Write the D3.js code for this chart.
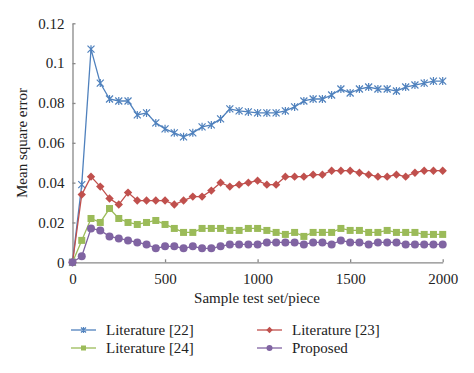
<!DOCTYPE html>
<html>
<head>
<meta charset="utf-8">
<script src="https://cdn.jsdelivr.net/npm/d3@7"></script>
<style>
  body { margin: 0; background: #fff; }
</style>
</head>
<body>
<svg id="chart"></svg>
<script>
let width = 474;
let height = 373;

// sample sizes, every 50 pieces
let samples = d3.range(0, 2001, 50);

let lit22 = [0, 0.039, 0.107, 0.090, 0.082, 0.081, 0.081, 0.074, 0.075, 0.070,
  0.067, 0.065, 0.063, 0.065, 0.068, 0.069, 0.072, 0.077, 0.076, 0.0755,
  0.075, 0.075, 0.075, 0.076, 0.078, 0.081, 0.082, 0.082, 0.084, 0.087,
  0.085, 0.087, 0.088, 0.087, 0.087, 0.086, 0.088, 0.089, 0.090, 0.091, 0.091];

let lit23 = [0, 0.034, 0.043, 0.038, 0.032, 0.029, 0.035, 0.031, 0.031, 0.031,
  0.031, 0.029, 0.031, 0.033, 0.033, 0.036, 0.040, 0.038, 0.039, 0.040,
  0.041, 0.039, 0.039, 0.043, 0.043, 0.043, 0.044, 0.044, 0.046, 0.046,
  0.046, 0.045, 0.044, 0.043, 0.043, 0.044, 0.043, 0.045, 0.046, 0.046, 0.046];

let lit24 = [0, 0.011, 0.022, 0.020, 0.027, 0.022, 0.020, 0.019, 0.020, 0.021,
  0.019, 0.017, 0.015, 0.015, 0.017, 0.017, 0.017, 0.016, 0.016, 0.017,
  0.017, 0.016, 0.015, 0.014, 0.015, 0.013, 0.015, 0.015, 0.015, 0.017,
  0.016, 0.016, 0.015, 0.015, 0.016, 0.015, 0.015, 0.015, 0.014, 0.014, 0.014];

let proposed = [0, 0.003, 0.017, 0.016, 0.013, 0.012, 0.011, 0.010, 0.009, 0.007,
  0.008, 0.008, 0.007, 0.008, 0.007, 0.007, 0.008, 0.009, 0.009, 0.009,
  0.009, 0.010, 0.010, 0.010, 0.010, 0.009, 0.010, 0.010, 0.009, 0.011,
  0.010, 0.010, 0.009, 0.010, 0.010, 0.010, 0.009, 0.009, 0.009, 0.009, 0.009];

let seriesNames = ["Literature [22]", "Literature [23]", "Literature [24]", "Proposed"];
let seriesColors = ["#4f81bd", "#c0504d", "#9bbb59", "#8064a2"];
let seriesMarkers = ["star", "diamond", "square", "circle"];
let seriesValues = [lit22, lit23, lit24, proposed];

let xTicks = [0, 500, 1000, 1500, 2000];
let yTicks = [0, 0.02, 0.04, 0.06, 0.08, 0.1, 0.12];

let serif = "'Liberation Serif'";

let svg = d3.select("#chart").attr("width", width).attr("height", height);

let xScale = d3.scaleLinear().domain([0, 2000]).range([72.5, 442.7]);
let yScale = d3.scaleLinear().domain([0, 0.12]).range([262.3, 23.3]);

// axes, ticks point inward
let xAxis = d3.axisBottom(xScale).tickValues(xTicks).tickSizeInner(-3).tickSizeOuter(0).tickPadding(8)
  .tickFormat(d3.format("d"));
let yAxis = d3.axisLeft(yScale).tickValues(yTicks).tickSizeInner(-3).tickSizeOuter(0).tickPadding(8)
  .tickFormat(d => String(+d.toFixed(2)));

let gx = svg.append("g").attr("transform", "translate(0," + yScale(0) + ")").call(xAxis);
let gy = svg.append("g").attr("transform", "translate(" + xScale(0) + ",0)").call(yAxis);

[gx, gy].forEach(g => {
  g.attr("font-family", null).attr("font-size", null);
  g.select(".domain").attr("stroke", "#888").attr("stroke-width", 1.3);
  g.selectAll(".tick line").attr("stroke", "#888").attr("stroke-width", 1.3);
  g.selectAll(".tick text").attr("fill", "#222");
});
gx.selectAll(".tick text").attr("dy", "0.9em");

svg.append("text")
  .attr("x", 257).attr("y", 303)
  .attr("text-anchor", "middle")
  .text("Sample test set/piece");

svg.append("text")
  .attr("transform", "translate(27,143) rotate(-90)")
  .attr("text-anchor", "middle")
  .text("Mean square error");

// marker drawing
let drawMarker = (g, type, color, size) => {
  let s = size / 2;
  if (type === "star") {
    g.append("path")
      .attr("d", `M${-s},${-s}L${s},${s}M${-s},${s}L${s},${-s}M0,${-s - 0.5}L0,${s + 0.5}`)
      .attr("stroke", color).attr("stroke-width", 1.2).attr("fill", "none");
  } else if (type === "diamond") {
    g.append("path")
      .attr("d", `M0,${-s - 0.7}L${s + 0.7},0L0,${s + 0.7}L${-s - 0.7},0Z`)
      .attr("fill", color);
  } else if (type === "square") {
    g.append("rect")
      .attr("x", -s).attr("y", -s).attr("width", size).attr("height", size)
      .attr("fill", color);
  } else {
    g.append("circle").attr("r", s + 0.5).attr("fill", color);
  }
};

let line = d3.line()
  .x((d, i) => xScale(samples[i]))
  .y(d => yScale(d));

seriesValues.forEach((vals, k) => {
  let g = svg.append("g");
  g.append("path")
    .attr("d", line(vals))
    .attr("fill", "none")
    .attr("stroke", seriesColors[k])
    .attr("stroke-width", 1.3);
  g.selectAll("g.pt")
    .data(vals)
    .enter()
    .append("g")
    .attr("class", "pt")
    .attr("transform", (d, i) => "translate(" + xScale(samples[i]) + "," + yScale(d) + ")")
    .each(function () { drawMarker(d3.select(this), seriesMarkers[k], seriesColors[k], 7); });
});

// legend
let legendPos = [[71, 330], [257, 330], [71, 348], [257, 348]];
seriesNames.forEach((name, k) => {
  let [lx, ly] = legendPos[k];
  let g = svg.append("g").attr("transform", "translate(" + lx + "," + ly + ")");
  g.append("line").attr("x1", 0).attr("x2", 25).attr("y1", 0).attr("y2", 0)
    .attr("stroke", seriesColors[k]).attr("stroke-width", 1.3);
  let m = g.append("g").attr("transform", "translate(12.5,0)");
  drawMarker(m, seriesMarkers[k], seriesColors[k], 5);
  g.append("text").attr("x", 35).attr("y", 0).attr("dy", "0.35em").text(name);
});

// one font for every text, set last so nothing overrides it
svg.selectAll("text")
  .style("font-family", serif)
  .style("font-size", "15px")
  .attr("fill", "#222");
</script>
</body>
</html>
